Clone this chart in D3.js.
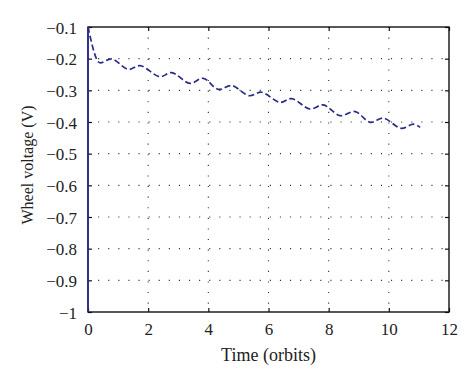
<!DOCTYPE html>
<html>
<head>
<meta charset="utf-8">
<script src="https://cdn.jsdelivr.net/npm/d3@7"></script>
<style>
  body { margin: 0; background: #fff; }
  svg text { font-family: "Liberation Serif", "DejaVu Serif", serif !important; fill: #222; }
</style>
</head>
<body>
<div id="chart"></div>
<script>
// data
var timeOrbits = [0, 0.28, 0.4, 0.79, 1.34, 1.73, 2.39, 2.78, 3.39, 3.83, 4.33, 4.78,
    5.36, 5.77, 6.38, 6.77, 7.38, 7.82, 8.38, 8.88, 9.38, 9.82, 10.41, 10.82, 11.04];
var wheelVoltage = [-0.1, -0.2, -0.213, -0.201, -0.234, -0.222, -0.257, -0.244, -0.278, -0.262,
    -0.297, -0.285, -0.317, -0.306, -0.338, -0.326, -0.359, -0.346, -0.380, -0.367,
    -0.401, -0.388, -0.420, -0.407, -0.417];
// initial jump at t = 0
var transientTime = [0, 0];
var transientVoltage = [-1, -0.1];

var xTicks = [0, 2, 4, 6, 8, 10, 12];
var yTicks = [-1, -0.9, -0.8, -0.7, -0.6, -0.5, -0.4, -0.3, -0.2, -0.1];

var svgWidth = 474;
var svgHeight = 386;
var margin = { top: 27, right: 25, bottom: 74, left: 88 };
var chartWidth = svgWidth - margin.left - margin.right;
var chartHeight = svgHeight - margin.top - margin.bottom;

var svg = d3.select("#chart").append("svg")
    .attr("width", svgWidth)
    .attr("height", svgHeight);

var chartGroup = svg.append("g")
    .attr("transform", `translate(${margin.left}, ${margin.top})`);

var xScale = d3.scaleLinear().domain([0, 12]).range([0, chartWidth]);
var yScale = d3.scaleLinear().domain([-1, -0.1]).range([chartHeight, 0]);

var fmt = function (d) { return d3.format(".1f")(d).replace("-", "\u2212").replace(/\.0$/, ""); };

// grid
chartGroup.append("g")
    .selectAll("line")
    .data(xTicks.slice(1, -1))
    .enter()
    .append("line")
    .attr("x1", d => xScale(d)).attr("x2", d => xScale(d))
    .attr("y1", 0).attr("y2", chartHeight)
    .attr("stroke", "#333")
    .attr("stroke-width", 1.1)
    .attr("stroke-dasharray", "1.1,9.5");

chartGroup.append("g")
    .selectAll("line")
    .data(yTicks.slice(1, -1))
    .enter()
    .append("line")
    .attr("x1", 0).attr("x2", chartWidth)
    .attr("y1", d => yScale(d)).attr("y2", d => yScale(d))
    .attr("stroke", "#333")
    .attr("stroke-width", 1.1)
    .attr("stroke-dasharray", "1.1,9");

// axes (ticks inside, on all four sides)
var xAxis = d3.axisBottom(xScale).tickValues(xTicks).tickSizeInner(-4).tickSizeOuter(0)
    .tickPadding(11).tickFormat(d3.format("d"));
var yAxis = d3.axisLeft(yScale).tickValues(yTicks).tickSizeInner(-4).tickSizeOuter(0)
    .tickPadding(11).tickFormat(fmt);

var gx = chartGroup.append("g")
    .attr("transform", `translate(0, ${chartHeight})`)
    .call(xAxis);
var gy = chartGroup.append("g").call(yAxis);

chartGroup.append("g")
    .call(d3.axisTop(xScale).tickValues(xTicks).tickSizeInner(-4).tickSizeOuter(0).tickFormat(""));
chartGroup.append("g")
    .attr("transform", `translate(${chartWidth}, 0)`)
    .call(d3.axisRight(yScale).tickValues(yTicks).tickSizeInner(-4).tickSizeOuter(0).tickFormat(""));

chartGroup.selectAll(".domain").remove();
chartGroup.selectAll(".tick line").attr("stroke", "#111").attr("stroke-width", 1.2);
gx.selectAll("text").style("font-size", "17px");
gy.selectAll("text").style("font-size", "17px").attr("dy", "0.36em");

// box
chartGroup.append("rect")
    .attr("width", chartWidth)
    .attr("height", chartHeight)
    .attr("fill", "none")
    .attr("stroke", "#111")
    .attr("stroke-width", 1.4);

// lines
var transient = transientTime.map((t, i) => [t, transientVoltage[i]]);
chartGroup.append("path")
    .datum(transient)
    .attr("fill", "none")
    .attr("stroke", "#2a2a96")
    .attr("stroke-width", 1.6)
    .attr("d", d3.line().x(d => xScale(d[0])).y(d => yScale(d[1])));

var series = timeOrbits.map((t, i) => [t, wheelVoltage[i]]);
chartGroup.append("path")
    .datum(series)
    .attr("fill", "none")
    .attr("stroke", "#2a2a8c")
    .attr("stroke-width", 1.7)
    .attr("stroke-dasharray", "6,3")
    .attr("d", d3.line().curve(d3.curveCatmullRom.alpha(0.5)).x(d => xScale(d[0])).y(d => yScale(d[1])));

// axis labels
chartGroup.append("text")
    .attr("transform", `translate(${chartWidth / 2}, ${chartHeight + 49})`)
    .attr("text-anchor", "middle")
    .style("font-size", "18px")
    .text("Time (orbits)");

chartGroup.append("text")
    .attr("transform", `translate(${33 - margin.left}, ${165 - margin.top}) rotate(-90)`)
    .attr("text-anchor", "middle")
    .style("font-size", "16px")
    .text("Wheel voltage (V)");
</script>
</body>
</html>
